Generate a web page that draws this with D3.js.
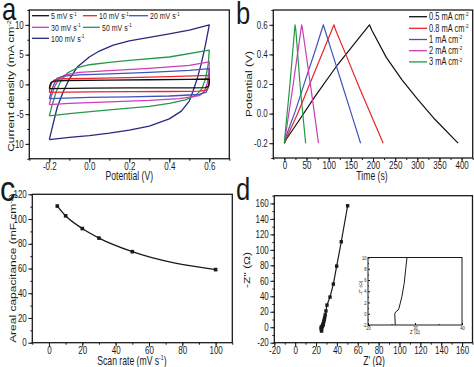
<!DOCTYPE html>
<html><head><meta charset="utf-8">
<script src="https://cdn.jsdelivr.net/npm/d3@7"></script>
<style>body{margin:0;background:#fff}svg{display:block}</style>
</head><body><svg id="chart" width="474" height="367"></svg>
<script>
// ---------- DATA ----------
// (a) cyclic voltammetry loops [potential V, current density mA cm-2]
const cvRates = ["5", "10", "20", "30", "50", "100"];
const cv5 = [[-0.2,-0.7],[-0.197,-0.2],[-0.192,0.3],[-0.175,0.55],[-0.12,0.65],[0.1,0.7],[0.3,0.78],[0.5,0.85],[0.6,0.9],[0.6,0.3],[0.596,-0.3],[0.582,-0.55],[0.5,-0.6],[0.2,-0.6],[0,-0.62],[-0.2,-0.7]];
const cv10 = [[-0.2,-1.35],[-0.196,-0.5],[-0.187,0.4],[-0.17,0.8],[-0.13,0.95],[0,1.0],[0.2,1.15],[0.4,1.3],[0.6,1.5],[0.6,0.5],[0.596,-0.5],[0.582,-1.0],[0.55,-1.15],[0.4,-1.2],[0.2,-1.22],[0,-1.26],[-0.2,-1.35]];
const cv20 = [[-0.2,-2.4],[-0.19,-1.2],[-0.177,0],[-0.162,1.0],[-0.13,1.4],[-0.05,1.6],[0.1,1.75],[0.3,2.0],[0.5,2.35],[0.6,2.65],[0.6,1.0],[0.595,-0.5],[0.585,-1.3],[0.55,-1.7],[0.4,-1.95],[0.2,-2.1],[0,-2.2],[-0.2,-2.4]];
const cv30 = [[-0.2,-3.4],[-0.19,-2.0],[-0.172,-0.3],[-0.152,0.9],[-0.12,1.6],[-0.05,2.0],[0.1,2.3],[0.3,2.7],[0.5,3.2],[0.6,3.8],[0.598,2.0],[0.59,0.2],[0.575,-1.2],[0.55,-1.9],[0.45,-2.4],[0.3,-2.7],[0.1,-2.95],[-0.1,-3.2],[-0.2,-3.4]];
const cv50 = [[-0.2,-5.3],[-0.186,-3.5],[-0.166,-1.3],[-0.142,0.6],[-0.11,1.9],[-0.06,2.8],[0,3.3],[0.1,3.7],[0.2,4.05],[0.4,4.6],[0.6,5.75],[0.595,3.5],[0.582,1.0],[0.562,-0.8],[0.532,-1.9],[0.48,-2.6],[0.4,-3.2],[0.3,-3.7],[0.1,-4.3],[-0.1,-4.9],[-0.2,-5.3]];
const cv100 = [[-0.2,-9.3],[-0.18,-6.5],[-0.16,-3.8],[-0.13,-1.2],[-0.1,0.9],[-0.06,2.9],[0,4.6],[0.05,5.6],[0.12,6.6],[0.2,7.3],[0.3,7.9],[0.4,8.5],[0.5,9.1],[0.6,10],[0.58,6.5],[0.56,3.5],[0.54,1.0],[0.52,-1.0],[0.5,-2.8],[0.46,-4.5],[0.4,-5.8],[0.3,-7.0],[0.2,-7.7],[0.1,-8.2],[0,-8.6],[-0.1,-8.9],[-0.2,-9.3]];
const cvLoops = [cv5, cv10, cv20, cv30, cv50, cv100];
const aXTicks = [-0.2, 0, 0.2, 0.4, 0.6];
const aXLabels = ["-0.2", "0.0", "0.2", "0.4", "0.6"];
const aYTicks = [-10, -5, 0, 5, 10];
const aYLabels = ["-10", "-5", "0", "5", "10"];

// (b) galvanostatic charge/discharge [time s, potential V]
const gcdCurrents = ["0.5", "0.8", "1", "2", "3"];
const gcdT05 = [0, 5, 30, 70, 120, 160, 192, 198, 230, 265, 300, 340, 392];
const gcdV05 = [-0.2, -0.17, -0.06, 0.12, 0.33, 0.48, 0.6, 0.56, 0.38, 0.23, 0.1, -0.04, -0.2];
const gcdT08 = [0, 4, 30, 60, 90, 112, 115, 140, 170, 200, 223];
const gcdV08 = [-0.2, -0.17, 0.0, 0.22, 0.44, 0.6, 0.57, 0.39, 0.17, -0.04, -0.2];
const gcdT1 = [0, 3, 25, 50, 70, 88, 91, 110, 130, 150, 172];
const gcdV1 = [-0.2, -0.16, 0.02, 0.25, 0.43, 0.6, 0.57, 0.39, 0.2, 0.01, -0.2];
const gcdT2 = [0, 2, 20, 39, 41, 60, 77];
const gcdV2 = [-0.2, -0.16, 0.2, 0.6, 0.57, 0.17, -0.2];
const gcdT3 = [0, 1, 12, 24, 26, 36, 48];
const gcdV3 = [-0.2, -0.16, 0.18, 0.6, 0.56, 0.17, -0.2];
const gcdTimes = [gcdT05, gcdT08, gcdT1, gcdT2, gcdT3];
const gcdVolts = [gcdV05, gcdV08, gcdV1, gcdV2, gcdV3];
const bXTicks = [0, 50, 100, 150, 200, 250, 300, 350, 400];
const bYTicks = [-0.2, 0, 0.2, 0.4, 0.6];
const bYLabels = ["-0.2", "0.0", "0.2", "0.4", "0.6"];

// (c) areal capacitance vs scan rate
const cScanRate = [5, 10, 20, 30, 50, 100];
const cCapacitance = [110.5, 102.6, 92.3, 84.6, 73.6, 59.1];
const cXTicks = [0, 20, 40, 60, 80, 100];
const cYTicks = [0, 20, 40, 60, 80, 100, 120];

// (d) Nyquist plot
const dRe = [50.3, 44.2, 39.8, 36.6, 33.4, 30.5, 29.5, 28.8, 28.3, 27.9, 27.5, 27.1, 26.8, 26.6, 26.3, 26.0, 25.6, 25.3, 25.1, 25.1, 25.2, 25.2, 25.3];
const dIm = [157, 110.5, 79, 55.8, 39, 28.6, 21, 16, 12.5, 10, 7.8, 5.4, 4, 3, 2, 1, 0.6, 0.3, 0, -1, -2, -3.5, -5];
const insetRe = [25.8, 25.7, 25.9, 26.4, 26.6, 27.2, 27.7, 28.0, 28.3];
const insetIm = [-2, 0, 0.35, 0.65, 1.0, 3.0, 5.4, 7.8, 10];
const dTicks = [-20, 0, 20, 40, 60, 80, 100, 120, 140, 160];
const insetXTicks = [20, 30, 40];
const insetYTicks = [-2, 0, 2, 4, 6, 8, 10];

// ---------- STYLE ----------
const SX = 0.75;
const FONT = "'Liberation Sans', Arial, sans-serif";
const INK = "#1a1a1a";
const cvColors = ["#111111", "#e8262b", "#3d56bd", "#cf3cb8", "#24994a", "#28287f"];
const gcdColors = ["#111111", "#e8262b", "#4451bb", "#c83db5", "#1f9a42"];

const svg = d3.select("#chart");
svg.append("rect").attr("width", 474).attr("height", 367).attr("fill", "#fff");

function label(parent, x, y, parts, size, anchor, rot, sx) {
  const k = sx || SX;
  const g = parent.append("g").attr("transform", `translate(${x},${y}) scale(${k},1)` + (rot ? " rotate(-90)" : ""));
  const t = g.append("text").attr("font-family", FONT).attr("font-size", size)
    .attr("text-anchor", anchor || "middle").attr("fill", INK);
  if (typeof parts === "string") parts = [parts];
  let up = false;
  parts.forEach(p => {
    if (typeof p === "string") {
      const s = t.append("tspan").text(p);
      if (up) { s.attr("dy", size * 0.38); up = false; }
    } else {
      t.append("tspan").attr("font-size", size * 0.62).attr("dy", -size * 0.38).text(p.sup);
      up = true;
    }
  });
  return g;
}

function makePanel(o) {
  const x = d3.scaleLinear().domain(o.xd).range([o.l, o.r]);
  const y = d3.scaleLinear().domain(o.yd).range([o.b, o.t]);
  const g = svg.append("g");
  return { x, y, g, o };
}

function styleAxis(s, fs) {
  s.select(".domain").remove();
  s.attr("font-family", FONT).attr("font-size", fs);
  s.selectAll("line").attr("stroke", INK).attr("stroke-width", 1);
  s.selectAll("text").attr("fill", INK);
}

function drawAxes(p, a) {
  const { x, y, g, o } = p;
  const fs = a.fs || 10, tl = a.tl == null ? 4 : a.tl, ml = a.ml == null ? 2 : a.ml;
  const xpad = a.xpad == null ? 0.5 : a.xpad, ypad = a.ypad == null ? 1.5 : a.ypad;
  const sx = a.sx || 0.8;
  const axG = g.append("g");
  if (a.xMinor) axG.append("g").attr("transform", `translate(0,${o.b})`)
    .call(d3.axisBottom(x).tickValues(a.xMinor).tickSize(ml).tickFormat("")).call(s => styleAxis(s, fs));
  axG.append("g").attr("transform", `translate(0,${o.b})`)
    .call(d3.axisBottom(x).tickValues(a.xTicks).tickSize(tl).tickFormat((d, i) => a.xLabels[i]))
    .call(s => { styleAxis(s, fs); s.selectAll("text").attr("y", Math.max(tl, 0) + xpad).attr("transform", `scale(${sx},1)`); });
  if (a.yMinor) axG.append("g").attr("transform", `translate(${o.l},0)`)
    .call(d3.axisLeft(y).tickValues(a.yMinor).tickSize(ml).tickFormat("")).call(s => styleAxis(s, fs));
  axG.append("g").attr("transform", `translate(${o.l},0)`)
    .call(d3.axisLeft(y).tickValues(a.yTicks).tickSize(tl).tickFormat((d, i) => a.yLabels[i]))
    .call(s => { styleAxis(s, fs); s.selectAll("text").attr("x", -(Math.max(tl, 0) + ypad) / sx).attr("transform", `scale(${sx},1)`); });
}

function frame(p, sw) {
  const o = p.o;
  p.g.append("rect").attr("x", o.l).attr("y", o.t).attr("width", o.r - o.l).attr("height", o.b - o.t)
    .attr("fill", "none").attr("stroke", INK).attr("stroke-width", sw || 1.3);
}

const fmt = d => String(d);
const range = (a, b, s) => d3.range(a, b + s / 2, s);
const TS = 12, TSX = 0.72; // axis title size / squeeze

// ---------- PANEL A ----------
const pa = makePanel({ l: 29.3, r: 229.3, t: 10, b: 158.75, xd: [-0.3, 0.7], yd: [-12.5, 12.5] });
drawAxes(pa, { xTicks: aXTicks, xLabels: aXLabels, xMinor: range(-0.3, 0.7, 0.1), yTicks: aYTicks, yLabels: aYLabels, yMinor: range(-12.5, 12.5, 2.5) });
const lineA = d3.line().x(d => pa.x(d[0])).y(d => pa.y(d[1]));
cvLoops.slice().reverse().forEach((loop, i) => {
  const k = cvLoops.length - 1 - i;
  pa.g.append("path").attr("d", lineA(loop)).attr("fill", "none").attr("stroke", cvColors[k]).attr("stroke-width", 1.3).attr("stroke-linejoin", "round");
});
frame(pa);
const legA = [[0, 32, 49, 15.7], [1, 83, 97, 15.7], [2, 129, 148, 15.7], [3, 32, 49, 27.3], [4, 83, 100, 27.3], [5, 32, 49, 38.3]];
legA.forEach(([k, x1, x2, yy]) => {
  pa.g.append("line").attr("x1", x1).attr("x2", x2).attr("y1", yy).attr("y2", yy).attr("stroke", cvColors[k]).attr("stroke-width", 1.3);
  label(pa.g, x2 + 2, yy + 3.5, [cvRates[k] + " mV s", { sup: "-1" }], 9.5, "start", false, 0.74);
});
label(svg, 129.3, 180, "Potential (V)", TS, "middle", false, TSX);
label(svg, 14, 84, ["Current density (mA cm", { sup: "-2" }, ")"], TS, "middle", true, TSX);
label(svg, 2, 19.5, "a", 32, "start", false, 0.8);

// ---------- PANEL B ----------
const pb = makePanel({ l: 273.3, r: 472.7, t: 10, b: 158, xd: [-25, 425], yd: [-0.3, 0.7] });
drawAxes(pb, { xTicks: bXTicks, xLabels: bXTicks.map(fmt), xMinor: range(-25, 425, 25), yTicks: bYTicks, yLabels: bYLabels, yMinor: range(-0.3, 0.7, 0.1), xpad: 0 });
const lineB = d3.line().x(d => pb.x(d[0])).y(d => pb.y(d[1]));
gcdTimes.forEach((ts, k) => {
  const pts = ts.map((t, i) => [t, gcdVolts[k][i]]);
  pb.g.append("path").attr("d", lineB(pts)).attr("fill", "none").attr("stroke", gcdColors[k]).attr("stroke-width", 1.2).attr("stroke-linejoin", "round");
});
frame(pb);
[16.7, 28.3, 39.5, 50.7, 61.9].forEach((yy, k) => {
  pb.g.append("line").attr("x1", 409).attr("x2", 427).attr("y1", yy).attr("y2", yy).attr("stroke", gcdColors[k]).attr("stroke-width", 1.3);
  label(pb.g, 429, yy + 3.5, [gcdCurrents[k] + " mA cm", { sup: "-2" }], 10, "start");
});
label(svg, 372, 180, "Time (s)", TS, "middle", false, TSX);
label(svg, 252, 84, "Potential (V)", TS, "middle", true, TSX);
label(svg, 236, 23.5, "b", 32, "start", false, 0.8);

// ---------- PANEL C ----------
const pc = makePanel({ l: 32.3, r: 232.3, t: 194.3, b: 342.7, xd: [-10, 110], yd: [0, 120] });
drawAxes(pc, { xTicks: cXTicks, xLabels: cXTicks.map(fmt), xMinor: range(-10, 110, 10), yTicks: cYTicks, yLabels: cYTicks.map(fmt), yMinor: range(0, 120, 10) });
const cPts = cScanRate.map((r, i) => [r, cCapacitance[i]]);
pc.g.append("path").attr("d", d3.line().curve(d3.curveMonotoneX).x(d => pc.x(d[0])).y(d => pc.y(d[1]))(cPts))
  .attr("fill", "none").attr("stroke", INK).attr("stroke-width", 1.3);
pc.g.selectAll("rect.m").data(cPts).join("rect").attr("class", "m")
  .attr("x", d => pc.x(d[0]) - 1.8).attr("y", d => pc.y(d[1]) - 1.8).attr("width", 3.6).attr("height", 3.6).attr("fill", INK);
frame(pc);
label(svg, 132, 365, ["Scan rate (mV s", { sup: "-1" }, ")"], TS, "middle", false, TSX);
label(svg, 16, 268, ["Areal capacitance (mF cm", { sup: "-2" }, ")"], TS, "middle", true, TSX);
label(svg, 0, 201, "c", 36, "start", false, 0.85);

// ---------- PANEL D ----------
const pd = makePanel({ l: 274.3, r: 472.5, t: 195.7, b: 342.7, xd: [-20, 170], yd: [-20, 170] });
drawAxes(pd, { xTicks: dTicks, xLabels: dTicks.map(fmt), xMinor: range(-20, 170, 10), yTicks: dTicks, yLabels: dTicks.map(fmt), yMinor: range(-20, 170, 10) });
const dPts = dRe.map((r, i) => [r, dIm[i]]);
pd.g.append("path").attr("d", d3.line().x(d => pd.x(d[0])).y(d => pd.y(d[1]))(dPts))
  .attr("fill", "none").attr("stroke", INK).attr("stroke-width", 1.2);
pd.g.selectAll("rect.m").data(dPts).join("rect").attr("class", "m")
  .attr("x", d => pd.x(d[0]) - 1.7).attr("y", d => pd.y(d[1]) - 1.7).attr("width", 3.4).attr("height", 3.4).attr("fill", INK);
frame(pd);
label(svg, 374, 365, "Z' (\u03A9)", TS, "middle", false, TSX);
label(svg, 250, 270, "-Z'' (\u03A9)", TS, "middle", true, TSX);
label(svg, 236, 200, "d", 32, "start", false, 0.8);

// inset
const pi = makePanel({ l: 368, r: 462, t: 257.5, b: 325, xd: [20, 40], yd: [-2, 10] });
pi.g.append("rect").attr("x", 368).attr("y", 257.5).attr("width", 94).attr("height", 67.5).attr("fill", "#fff");
drawAxes(pi, { fs: 5, tl: -2, ml: -1, xpad: 1.5, ypad: 1.5, sx: 0.8, xTicks: insetXTicks, xLabels: insetXTicks.map(fmt), xMinor: [25, 35], yTicks: insetYTicks, yLabels: insetYTicks.map(fmt), yMinor: range(-1, 9, 2) });
const iPts = insetRe.map((r, i) => [r, insetIm[i]]);
pi.g.append("path").attr("d", d3.line().x(d => pi.x(d[0])).y(d => pi.y(d[1]))(iPts))
  .attr("fill", "none").attr("stroke", INK).attr("stroke-width", 1);
frame(pi, 1);
label(svg, 415, 334, "Z' (\u03A9)", 5, "middle", false, 0.8);
label(svg, 362, 288, "-Z'' (\u03A9)", 5, "middle", true, 0.8);
</script></body></html>
